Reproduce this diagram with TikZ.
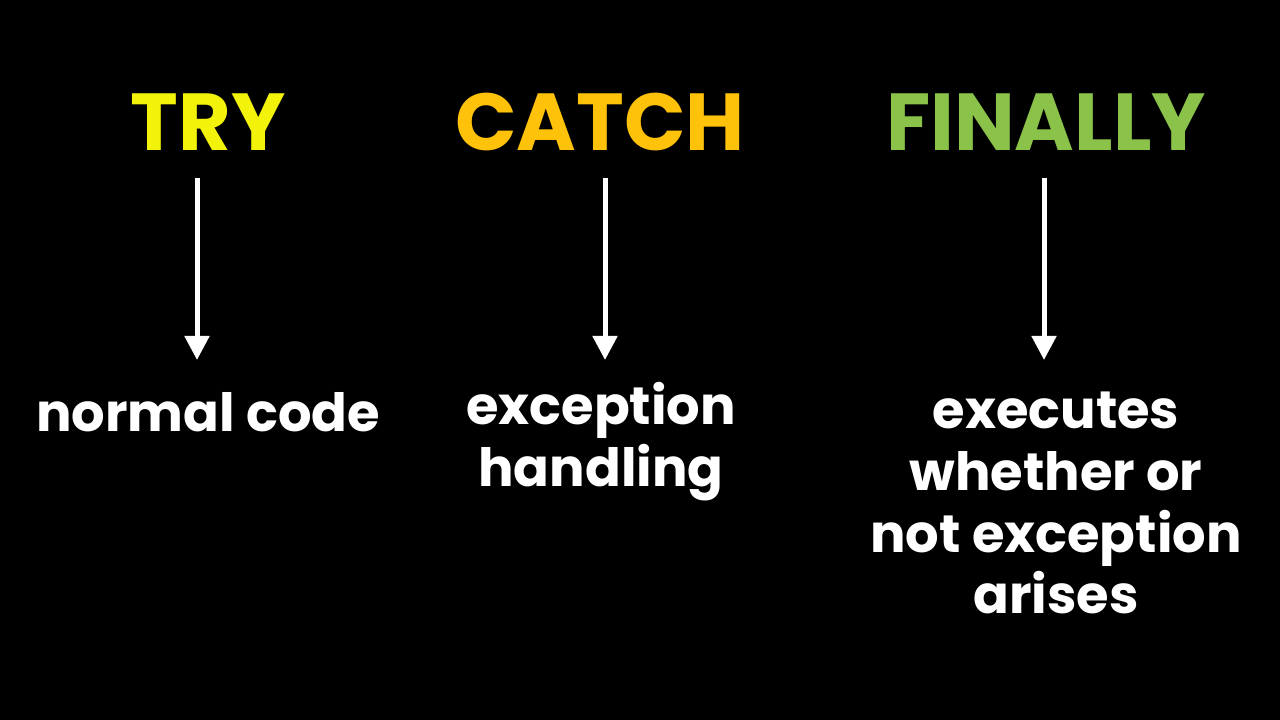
\documentclass[tikz,border=0pt]{standalone}
\usepackage{fontspec}
\setmainfont{Poppins}[UprightFont=* SemiBold,BoldFont=* Bold]
\usetikzlibrary{arrows.meta}
\definecolor{tryc}{HTML}{F2F20A}
\definecolor{catchc}{HTML}{FFC20A}
\definecolor{finc}{HTML}{8BC34A}
\tikzset{
 title/.style={font=\fontsize{23}{26}\selectfont\bfseries},
 body/.style={font=\fontsize{15}{17.6}\selectfont\bfseries, text=white, align=center},
 arr/.style={draw=white, line width=0.05cm, -{Triangle[width=0.24cm,length=0.24cm]}}
}
\begin{document}
\begin{tikzpicture}
\fill[black] (0,0) rectangle (12.8,7.2);
\useasboundingbox (0,0) rectangle (12.8,7.2);
\node[title, text=tryc] (t) at (2.08,5.98) {TRY};
\node[title, text=catchc] (c) at (6.00,5.98) {CATCH};
\node[title, text=finc] (f) at (10.46,5.98) {FINALLY};
\coordinate (ta) at (1.97,5.42); \coordinate (tb) at (1.97,3.60);
\coordinate (ca) at (6.05,5.42); \coordinate (cb) at (6.05,3.60);
\coordinate (fa) at (10.44,5.42); \coordinate (fb) at (10.44,3.60);
\draw[arr] (ta) -- (tb);
\draw[arr] (ca) -- (cb);
\draw[arr] (fa) -- (fb);
\node[body] (tt) at (2.08,3.08) {normal code};
\node[body] (ct) at (6.01,2.78) {exception\\handling};
\node[body] (ft) at (10.56,2.17) {executes\\whether or\\not exception\\arises};
\end{tikzpicture}
\end{document}
